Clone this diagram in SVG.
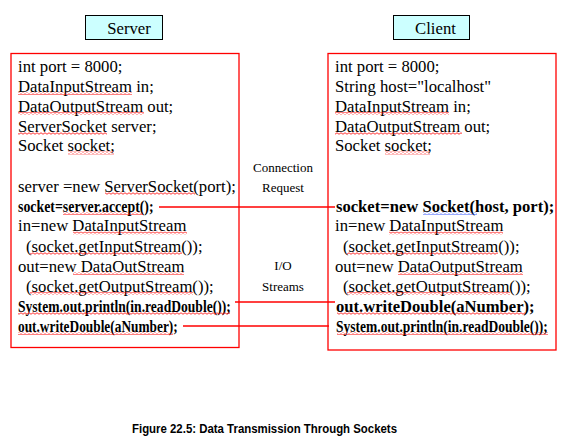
<svg xmlns="http://www.w3.org/2000/svg" width="561" height="437" viewBox="0 0 561 437">
<style>
.t{font-family:"Liberation Serif","Times New Roman",serif;font-size:16.7px;fill:#000}
.b{font-family:"Liberation Serif","Times New Roman",serif;font-size:16px;font-weight:bold;fill:#000}
.bb{font-family:"Liberation Serif","Times New Roman",serif;font-size:16.6px;font-weight:bold;fill:#000}
.m{font-family:"Liberation Serif","Times New Roman",serif;font-size:13px;fill:#000;text-anchor:middle}
.lbl{fill:#ccffff;stroke:#000;stroke-width:1}
.box{fill:#fff;stroke:#ff0000;stroke-width:1.3}
.c{stroke:#ff0000;stroke-width:1.3;fill:none}
.sq{fill:url(#sqr)}
.sqb{fill:url(#sqb)}
</style>
<defs>
<pattern id="sqr" patternUnits="userSpaceOnUse" width="4" height="3">
<path d="M0 1.5 Q1 0 2 1.5 T4 1.5" fill="none" stroke="#ff0000" stroke-width="0.8"/>
</pattern>
<pattern id="sqb" patternUnits="userSpaceOnUse" width="4" height="3">
<path d="M0 1.5 Q1 0 2 1.5 T4 1.5" fill="none" stroke="#3355ff" stroke-width="0.8"/>
</pattern>
</defs>
<rect width="561" height="437" fill="#fff"/>

<g id="server-label">
<rect class="lbl" x="85.5" y="15.5" width="77" height="24"/>
<text class="t" x="129" y="34" text-anchor="middle">Server</text>
</g>
<g id="client-label">
<rect class="lbl" x="393.5" y="15.5" width="76" height="24"/>
<text class="t" x="435.5" y="34" text-anchor="middle">Client</text>
</g>

<g id="server">
<rect class="box" x="11" y="53.5" width="228" height="294"/>
<text class="t" x="18" y="72">int port = 8000;</text>
<text class="t" x="18" y="91.5">DataInputStream in;</text>
<text class="t" x="18" y="111.5">DataOutputStream out;</text>
<text class="t" x="18" y="131.5">ServerSocket server;</text>
<text class="t" x="18" y="151">Socket socket;</text>
<text class="t" x="18" y="191.5">server =new ServerSocket(port);</text>
<text class="b" transform="translate(18,211.5) scale(0.867,1)">socket=server.accept();</text>
<text class="t" x="18" y="231">in=new DataInputStream</text>
<text class="t" x="26" y="251.5">(socket.getInputStream());</text>
<text class="t" x="18" y="271.5">out=new DataOutStream</text>
<text class="t" x="26" y="291.5">(socket.getOutputStream());</text>
<text class="b" transform="translate(18,311.5) scale(0.849,1)">System.out.println(in.readDouble());</text>
<text class="b" transform="translate(18,331.5) scale(0.835,1)">out.writeDouble(aNumber);</text>
<rect class="sq" x="18" y="92" width="114" height="3"/>
<rect class="sq" x="18" y="112" width="126" height="3"/>
<rect class="sq" x="18" y="132" width="89" height="3"/>
<rect class="sq" x="68" y="151.5" width="46" height="3"/>
<rect class="sq" x="105" y="192" width="90" height="3"/>
<rect class="sq" x="63" y="212" width="80" height="3"/>
<rect class="sq" x="73" y="231.5" width="114" height="3"/>
<rect class="sq" x="30" y="252" width="152" height="3"/>
<rect class="sq" x="73" y="272" width="111" height="3"/>
<rect class="sq" x="30" y="292" width="163" height="3"/>
<rect class="sq" x="18" y="312" width="212" height="3"/>
<rect class="sq" x="18" y="332" width="155" height="3"/>
</g>

<g id="client">
<rect class="box" x="328" y="53.5" width="228" height="296.5"/>
<text class="t" x="335" y="72">int port = 8000;</text>
<text class="t" x="335" y="91.5">String host="localhost"</text>
<text class="t" x="335" y="111.5">DataInputStream in;</text>
<text class="t" x="335" y="131.5">DataOutputStream out;</text>
<text class="t" x="335" y="151">Socket socket;</text>
<text class="bb" x="336" y="211.5">socket=new Socket(host, port);</text>
<text class="t" x="335" y="231">in=new DataInputStream</text>
<text class="t" x="343" y="251.5">(socket.getInputStream());</text>
<text class="t" x="335" y="271.5">out=new DataOutputStream</text>
<text class="t" x="343" y="291.5">(socket.getOutputStream());</text>
<text class="bb" x="336" y="311.5">out.writeDouble(aNumber);</text>
<text class="b" transform="translate(336,331.5) scale(0.845,1)">System.out.println(in.readDouble());</text>
<rect class="sq" x="335" y="112" width="114" height="3"/>
<rect class="sq" x="335" y="132" width="127" height="3"/>
<rect class="sq" x="385" y="151.5" width="45" height="3"/>
<rect class="sqb" x="423" y="212" width="54" height="3"/>
<rect class="sq" x="389" y="231.5" width="114" height="3"/>
<rect class="sq" x="347" y="252" width="151" height="3"/>
<rect class="sq" x="398" y="272" width="125" height="3"/>
<rect class="sq" x="347" y="292" width="163" height="3"/>
<rect class="sq" x="337" y="312" width="188" height="3"/>
<rect class="sq" x="337" y="332" width="211" height="3"/>
</g>

<g id="labels">
<text class="m" x="283" y="172">Connection</text>
<text class="m" x="283" y="192">Request</text>
<text class="m" x="283" y="270">I/O</text>
<text class="m" x="283" y="291">Streams</text>
</g>

<g id="connectors">
<line class="c" x1="159" y1="207" x2="335" y2="207"/>
<line class="c" x1="235" y1="302" x2="335" y2="302"/>
<line class="c" x1="183" y1="326" x2="329" y2="326"/>
</g>

<text x="132" y="433" textLength="265" lengthAdjust="spacingAndGlyphs" style="font-family:'Liberation Sans',Arial,sans-serif;font-size:12.5px;font-weight:bold;fill:#000">Figure 22.5: Data Transmission Through Sockets</text>
</svg>
